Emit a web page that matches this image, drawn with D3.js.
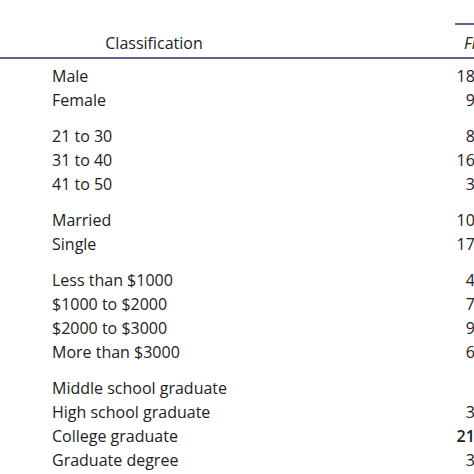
<!DOCTYPE html>
<html><head><meta charset="utf-8">
<script src="https://cdn.jsdelivr.net/npm/d3@7"></script>
<style>body{margin:0;background:#fff;overflow:hidden}</style>
</head><body><svg></svg>
<script>
// rows of the table, grouped by characteristic
let groups = [
    ['Male', 'Female'],
    ['21 to 30', '31 to 40', '41 to 50'],
    ['Married', 'Single'],
    ['Less than $1000', '$1000 to $2000', '$2000 to $3000', 'More than $3000'],
    ['Middle school graduate', 'High school graduate', 'College graduate', 'Graduate degree']
];
// frequencies (only the leading digits are visible in the crop)
let freqs = [
    [183, 97],
    [85, 162, 33],
    [104, 176],
    [45, 73, 96, 66],
    [4, 35, 211, 30]
];

let width = 474, height = 474;
let svg = d3.select('svg').attr('width', width).attr('height', height);
let navy = '#2b2f6b';

// flatten into rows with a gap index
let rows = [];
groups.forEach((g, gi) => g.forEach((label, i) => rows.push({label, value: freqs[gi][i], group: gi})));

let y = d3.scaleLinear().domain([0, 1]).range([76, 100]);
let gap = 12;
rows.forEach((r, i) => r.y = y(i) + r.group * gap);

svg.append('line').attr('x1', 455).attr('x2', width).attr('y1', 24).attr('y2', 24)
    .attr('stroke', navy).attr('stroke-width', 1.5);
svg.append('line').attr('x1', 0).attr('x2', width).attr('y1', 58).attr('y2', 58)
    .attr('stroke', navy).attr('stroke-width', 1.5);

svg.append('text').attr('x', 154).attr('y', 49).attr('text-anchor', 'middle')
    .style('font', '16px "Open Sans"').attr('fill', '#222').text('Classification');
svg.append('text').attr('x', 464).attr('y', 49)
    .style('font', 'italic 16px "Open Sans"').attr('fill', '#222').text('Frequency');

let row = svg.selectAll('g.row').data(rows).enter().append('g').classed('row', true)
    .attr('transform', d => `translate(0, ${d.y})`);
row.append('text').attr('x', 52).attr('y', 6)
    .style('font', '16px "Open Sans"').attr('fill', '#222').text(d => d.label);
row.append('text').attr('x', 484).attr('y', 6).attr('text-anchor', 'end')
    .style('font', d => (d.value > 200 ? '600 ' : '') + '16px "Open Sans"')
    .attr('fill', '#222').text(d => d.value);
</script></body></html>
